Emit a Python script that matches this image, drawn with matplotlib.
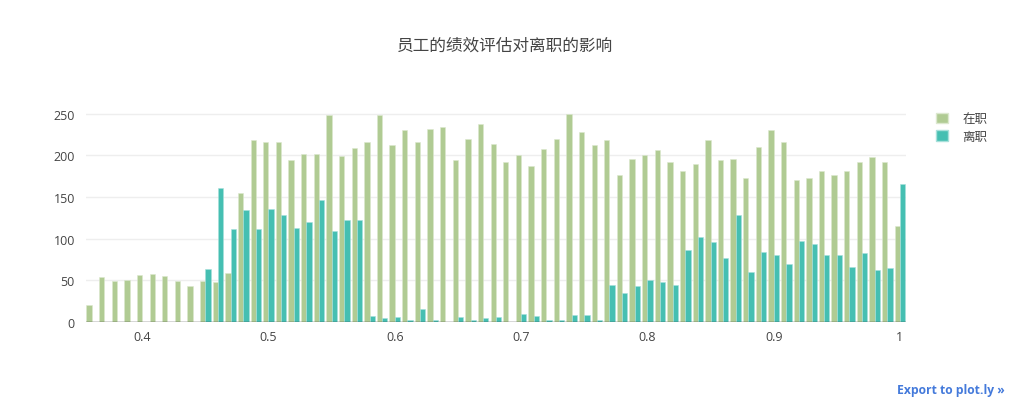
import numpy as np
import matplotlib
matplotlib.use('Agg')
import matplotlib.pyplot as plt
from matplotlib.patches import Patch

plt.rcParams['font.family'] = ['Open Sans', 'Noto Sans CJK SC', 'DejaVu Sans']

# last_evaluation bins (0.36 .. 1.00, step 0.01)
bins = np.round(np.arange(0.36, 1.001, 0.01), 2)
stay = [21, 54, 49, 51, 56, 58, 55, 49, 43, 49, 48, 59, 155, 218, 216, 216, 195, 202, 202, 248,
        199, 209, 216, 248, 213, 231, 216, 232, 234, 194, 220, 238, 214, 192, 201, 187, 208, 220,
        250, 228, 213, 218, 177, 196, 200, 206, 192, 181, 190, 218, 194, 196, 173, 210, 230, 216,
        171, 173, 181, 177, 181, 192, 198, 192, 115]
left = [0, 0, 0, 0, 0, 0, 0, 0, 0, 64, 161, 112, 135, 112, 136, 129, 113, 120, 147, 109,
        122, 122, 7, 5, 6, 2, 16, 2, 0, 6, 2, 5, 6, 0, 10, 7, 2, 2,
        8, 8, 2, 44, 35, 43, 50, 48, 44, 87, 102, 96, 77, 129, 60, 84, 81, 70,
        97, 94, 80, 80, 66, 83, 63, 65, 166]

green = '#b0cb93'
teal = '#45bfb2'
w = 0.0042

fig = plt.figure(figsize=(10.14, 4.06), dpi=100)
ax = fig.add_axes([86 / 1014, 1 - 323 / 406, 820 / 1014, 219 / 406])

ax.bar(bins - w / 2, stay, width=w, color=green, edgecolor='#dce8cf', linewidth=0.4)
ax.bar(bins + w / 2, left, width=w, color=teal, edgecolor='#a8e0da', linewidth=0.4)

ax.set_xlim(0.3555, 1.0048)
ax.set_ylim(0, 263)
ax.set_xticks([0.4, 0.5, 0.6, 0.7, 0.8, 0.9, 1.0])
ax.set_xticklabels(['0.4', '0.5', '0.6', '0.7', '0.8', '0.9', '1'])
ax.set_yticks([0, 50, 100, 150, 200, 250])
ax.tick_params(length=0, labelsize=9, colors='#444444', pad=6)
ax.tick_params(axis='y', pad=8)
for s in ax.spines.values():
    s.set_visible(False)
ax.grid(axis='y', color='#eeeeee', linewidth=1)
ax.set_axisbelow(True)
ax.axhline(0, color='#444444', linewidth=1)

fig.text(0.498, 1 - 47 / 406, '员工的绩效评估对离职的影响', ha='center', va='center',
         fontsize=12, color='#444444')

handles = [Patch(facecolor=green, edgecolor='#dce8cf'), Patch(facecolor=teal, edgecolor='#a8e0da')]
fig.legend(handles, ['在职', '离职'], loc='upper left', bbox_to_anchor=(925 / 1014, 1 - 102 / 406),
           frameon=False, fontsize=9, labelcolor='#444444', handlelength=0.9, handleheight=0.9,
           handletextpad=1.2, labelspacing=0.35)

fig.text(1005 / 1014, 1 - 391 / 406, 'Export to plot.ly »', ha='right', va='center',
         fontsize=8.7, color='#447adb', fontweight='bold')

fig.savefig('out.png', dpi=100)
